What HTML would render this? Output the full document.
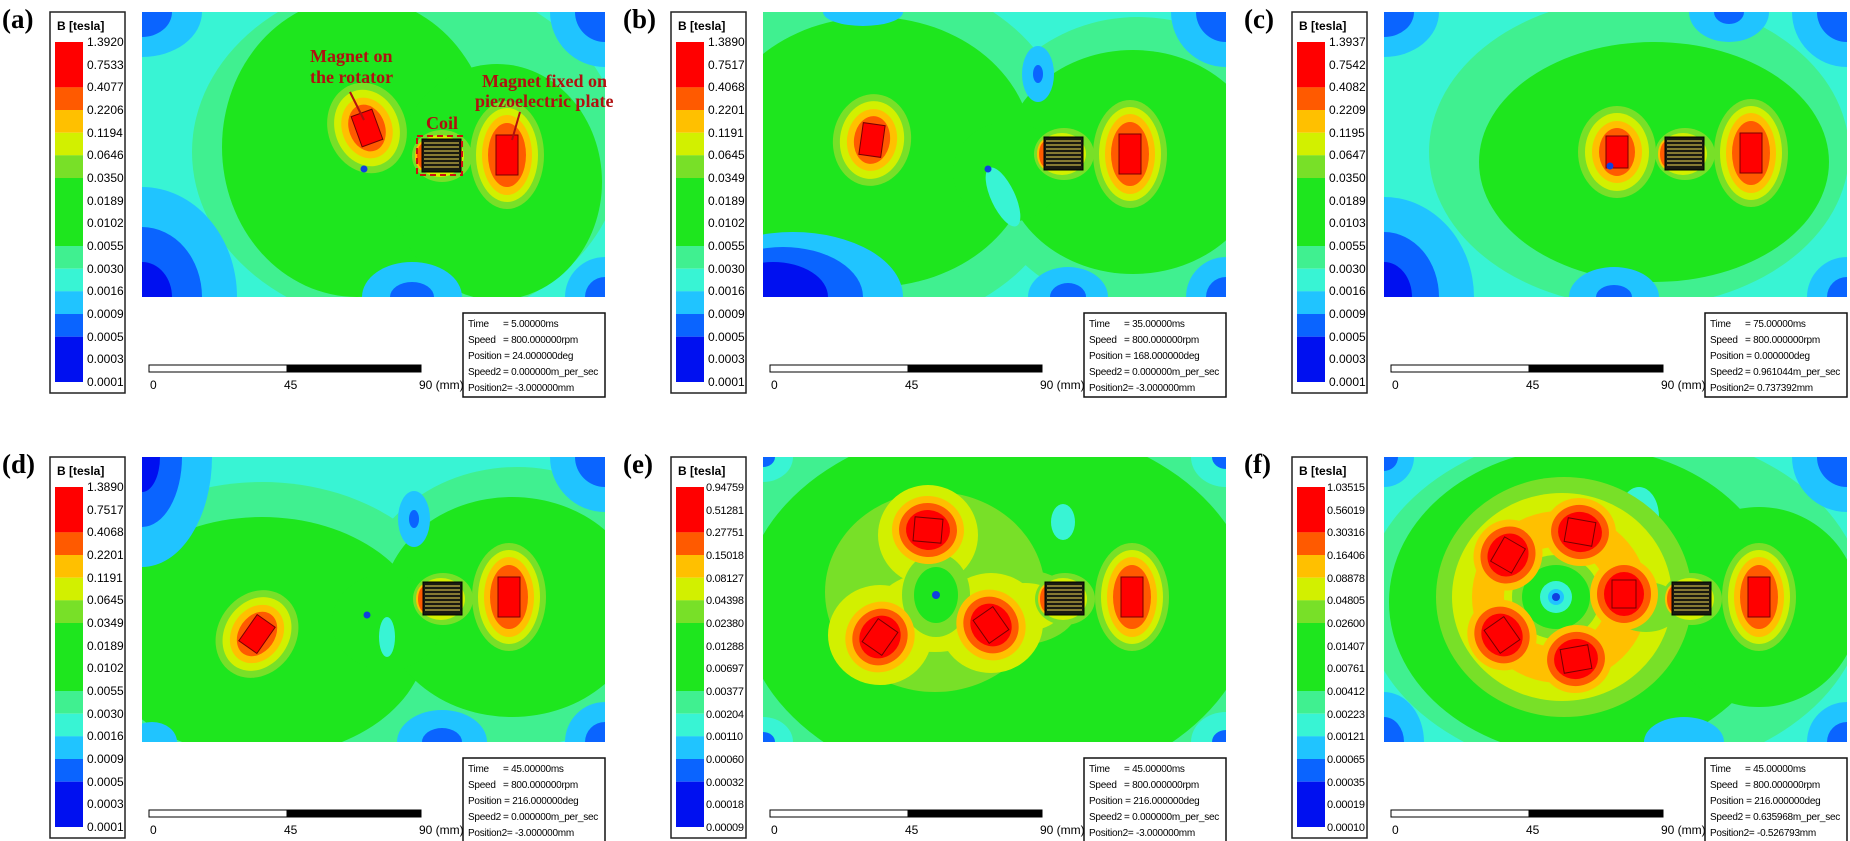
<!DOCTYPE html>
<html><head><meta charset="utf-8"><style>
html,body{margin:0;padding:0;background:#fff;}
svg{display:block;}
.lb{font-family:"Liberation Sans",Arial,sans-serif;font-size:12px;fill:#000;}
.lb5{font-family:"Liberation Sans",Arial,sans-serif;font-size:11px;fill:#000;letter-spacing:-0.3px;}
.tt{font-family:"Liberation Sans",Arial,sans-serif;font-size:12px;font-weight:bold;fill:#000;}
.inf{font-family:"Liberation Sans",Arial,sans-serif;font-size:10px;fill:#000;letter-spacing:-0.25px;}
.pl{font-family:"Liberation Serif","Times New Roman",serif;font-size:27px;font-weight:bold;fill:#000;}
.an{font-family:"Liberation Serif","Times New Roman",serif;font-size:18px;font-weight:bold;fill:#b01010;}
</style></head><body>
<svg width="1850" height="841" viewBox="0 0 1850 841" xmlns="http://www.w3.org/2000/svg">
<defs>
<g id="cbar">
<rect x="55" y="42" width="28" height="45.4" fill="#ff0000"/>
<rect x="55" y="87.3" width="28" height="22.7" fill="#ff5a00"/>
<rect x="55" y="110" width="28" height="22.7" fill="#ffc000"/>
<rect x="55" y="132.7" width="28" height="22.7" fill="#d2f000"/>
<rect x="55" y="155.3" width="28" height="22.7" fill="#78e028"/>
<rect x="55" y="178" width="28" height="68" fill="#1ee61e"/>
<rect x="55" y="246" width="28" height="22.7" fill="#40f090"/>
<rect x="55" y="268.7" width="28" height="22.7" fill="#38f4d4"/>
<rect x="55" y="291.3" width="28" height="22.7" fill="#20c4ff"/>
<rect x="55" y="314" width="28" height="22.7" fill="#0a64ff"/>
<rect x="55" y="336.7" width="28" height="45.3" fill="#0010f0"/>
<rect x="50" y="12" width="75" height="381" fill="none" stroke="#222" stroke-width="1.5"/>
<text x="57" y="30" class="tt">B [tesla]</text>
</g>
<g id="scale">
<rect x="149" y="365" width="138" height="7" fill="#fff" stroke="#000" stroke-width="1"/>
<rect x="287" y="365" width="134" height="7" fill="#000" stroke="#000" stroke-width="1"/>
<text x="150" y="389" class="lb">0</text>
<text x="284" y="389" class="lb">45</text>
<text x="419" y="389" class="lb">90 (mm)</text>
<rect x="463" y="313" width="142" height="84" fill="#fff" stroke="#111" stroke-width="1.5"/>
</g>
<g id="coil">
<rect x="0" y="0" width="39" height="33" fill="#1a1a10" stroke="#000"/>
<g stroke="#c8b448" stroke-width="1.2">
<line x1="2" y1="4" x2="37" y2="4"/><line x1="2" y1="8" x2="37" y2="8"/><line x1="2" y1="12" x2="37" y2="12"/><line x1="2" y1="16" x2="37" y2="16"/><line x1="2" y1="20" x2="37" y2="20"/><line x1="2" y1="24" x2="37" y2="24"/><line x1="2" y1="28" x2="37" y2="28"/>
</g>
</g>
<g id="hrot">
<ellipse rx="39" ry="46" fill="#78e028"/>
<ellipse rx="32" ry="39" fill="#d2f000"/>
<ellipse rx="25" ry="31" fill="#ffc000"/>
<ellipse rx="18" ry="24" fill="#ff5a00"/>
<rect x="-11" y="-16" width="22" height="32" fill="#ff0000" stroke="#700" stroke-width="1"/>
</g>
<g id="hfix">
<ellipse rx="37" ry="54" fill="#78e028"/>
<ellipse rx="31" ry="47" fill="#d2f000"/>
<ellipse rx="25" ry="40" fill="#ffc000"/>
<ellipse rx="19" ry="32" fill="#ff5a00"/>
<rect x="-11" y="-20" width="22" height="40" fill="#ff0000" stroke="#700" stroke-width="1"/>
</g>
<g id="hcoil">
<ellipse cx="20" cy="17" rx="30" ry="26" fill="#78e028"/>
<ellipse cx="18" cy="17" rx="24" ry="21" fill="#d2f000"/>
<ellipse cx="4" cy="17" rx="11" ry="16" fill="#ffc000"/>
<ellipse cx="2" cy="17" rx="7" ry="13" fill="#ff5a00"/>
<use href="#coil"/>
</g>
<g id="hbig">
<ellipse rx="36" ry="34" fill="#ffc000"/>
<ellipse rx="29" ry="27" fill="#ff5a00"/>
<ellipse rx="22" ry="20" fill="#ff0000"/>
<rect x="-14" y="-12" width="28" height="24" fill="#ff0000" stroke="#700" stroke-width="1"/>
</g>
<g id="corners">
<circle cx="463" cy="0" r="55" fill="#20c4ff"/><circle cx="463" cy="0" r="30" fill="#0a64ff"/>
<circle cx="463" cy="285" r="40" fill="#20c4ff"/><circle cx="463" cy="285" r="20" fill="#0a64ff"/>
</g>
</defs>

<!-- ===== (a) ===== -->
<g transform="translate(0,0)">
<text x="2" y="28" class="pl">(a)</text>
<use href="#cbar"/>
<svg x="142" y="12" width="463" height="285" viewBox="0 0 463 285">
<rect width="463" height="285" fill="#38f4d4"/>
<ellipse cx="265" cy="140" rx="215" ry="175" fill="#40f090"/>
<ellipse cx="215" cy="135" rx="135" ry="150" fill="#1ee61e"/>
<ellipse cx="355" cy="170" rx="105" ry="118" fill="#1ee61e"/>
<ellipse cx="0" cy="0" rx="60" ry="45" fill="#20c4ff"/><ellipse cx="0" cy="0" rx="30" ry="25" fill="#0a64ff"/>
<ellipse cx="0" cy="285" rx="95" ry="110" fill="#20c4ff"/><ellipse cx="0" cy="285" rx="60" ry="70" fill="#0a64ff"/><ellipse cx="0" cy="285" rx="30" ry="35" fill="#0010f0"/>
<ellipse cx="270" cy="285" rx="50" ry="35" fill="#20c4ff"/><ellipse cx="270" cy="285" rx="22" ry="15" fill="#0a64ff"/>
<use href="#corners"/>
<use href="#hrot" transform="translate(225,116) rotate(-20)"/>
<use href="#hcoil" transform="translate(280,127)"/>
<use href="#hfix" transform="translate(365,143)"/>
<circle cx="222" cy="157" r="3.5" fill="#1040e0"/>
<rect x="275" y="124" width="45" height="39" fill="none" stroke="#d01010" stroke-width="2" stroke-dasharray="6,4"/>
<line x1="208" y1="80" x2="222" y2="108" stroke="#b01010" stroke-width="2"/>
<line x1="378" y1="100" x2="370" y2="128" stroke="#b01010" stroke-width="2"/>
</svg>
<text x="310" y="62" class="an">Magnet on</text>
<text x="310" y="83" class="an">the rotator</text>
<text x="482" y="87" class="an">Magnet fixed on</text>
<text x="475" y="107" class="an">piezoelectric plate</text>
<text x="426" y="129" class="an">Coil</text>
<use href="#scale"/>
<g class="lb">
<text x="87" y="46">1.3920</text><text x="87" y="69">0.7533</text><text x="87" y="91">0.4077</text><text x="87" y="114">0.2206</text><text x="87" y="137">0.1194</text><text x="87" y="159">0.0646</text><text x="87" y="182">0.0350</text><text x="87" y="205">0.0189</text><text x="87" y="227">0.0102</text><text x="87" y="250">0.0055</text><text x="87" y="273">0.0030</text><text x="87" y="295">0.0016</text><text x="87" y="318">0.0009</text><text x="87" y="341">0.0005</text><text x="87" y="363">0.0003</text><text x="87" y="386">0.0001</text>
</g>
<g class="inf">
<text x="468" y="327">Time</text><text x="503" y="327">= 5.00000ms</text>
<text x="468" y="343">Speed</text><text x="503" y="343">= 800.000000rpm</text>
<text x="468" y="359">Position = 24.000000deg</text>
<text x="468" y="375">Speed2</text><text x="503" y="375">= 0.000000m_per_sec</text>
<text x="468" y="391">Position2= -3.000000mm</text>
</g>
</g>

<!-- ===== (b) ===== -->
<g transform="translate(621,0)">
<text x="2" y="28" class="pl">(b)</text>
<use href="#cbar"/>
<svg x="142" y="12" width="463" height="285" viewBox="0 0 463 285">
<rect width="463" height="285" fill="#38f4d4"/>
<ellipse cx="110" cy="140" rx="200" ry="175" fill="#40f090"/>
<ellipse cx="375" cy="150" rx="160" ry="145" fill="#40f090"/>
<ellipse cx="110" cy="140" rx="160" ry="135" fill="#1ee61e"/>
<ellipse cx="370" cy="150" rx="130" ry="112" fill="#1ee61e"/>
<ellipse cx="245" cy="160" rx="55" ry="50" fill="#1ee61e"/>
<ellipse cx="240" cy="185" rx="12" ry="32" transform="rotate(-25 240 185)" fill="#38f4d4"/>
<ellipse cx="275" cy="62" rx="16" ry="28" fill="#20c4ff"/><ellipse cx="275" cy="62" rx="5" ry="9" fill="#0a64ff"/>
<ellipse cx="30" cy="285" rx="110" ry="65" fill="#20c4ff"/><ellipse cx="20" cy="285" rx="80" ry="50" fill="#0a64ff"/><ellipse cx="10" cy="285" rx="55" ry="35" fill="#0010f0"/>
<ellipse cx="305" cy="285" rx="40" ry="30" fill="#20c4ff"/><ellipse cx="305" cy="285" rx="18" ry="14" fill="#0a64ff"/>
<ellipse cx="100" cy="0" rx="40" ry="14" fill="#20c4ff"/>
<use href="#corners"/>
<use href="#hrot" transform="translate(109,128) rotate(8)"/>
<use href="#hcoil" transform="translate(281,125)"/>
<use href="#hfix" transform="translate(367,142)"/>
<circle cx="225" cy="157" r="3.5" fill="#1040e0"/>
</svg>
<use href="#scale"/>
<g class="lb">
<text x="87" y="46">1.3890</text><text x="87" y="69">0.7517</text><text x="87" y="91">0.4068</text><text x="87" y="114">0.2201</text><text x="87" y="137">0.1191</text><text x="87" y="159">0.0645</text><text x="87" y="182">0.0349</text><text x="87" y="205">0.0189</text><text x="87" y="227">0.0102</text><text x="87" y="250">0.0055</text><text x="87" y="273">0.0030</text><text x="87" y="295">0.0016</text><text x="87" y="318">0.0009</text><text x="87" y="341">0.0005</text><text x="87" y="363">0.0003</text><text x="87" y="386">0.0001</text>
</g>
<g class="inf">
<text x="468" y="327">Time</text><text x="503" y="327">= 35.00000ms</text>
<text x="468" y="343">Speed</text><text x="503" y="343">= 800.000000rpm</text>
<text x="468" y="359">Position = 168.000000deg</text>
<text x="468" y="375">Speed2</text><text x="503" y="375">= 0.000000m_per_sec</text>
<text x="468" y="391">Position2= -3.000000mm</text>
</g>
</g>

<!-- ===== (c) ===== -->
<g transform="translate(1242,0)">
<text x="2" y="28" class="pl">(c)</text>
<use href="#cbar"/>
<svg x="142" y="12" width="463" height="285" viewBox="0 0 463 285">
<rect width="463" height="285" fill="#38f4d4"/>
<ellipse cx="255" cy="140" rx="210" ry="155" fill="#40f090"/>
<ellipse cx="270" cy="150" rx="175" ry="120" fill="#1ee61e"/>
<ellipse cx="0" cy="0" rx="55" ry="45" fill="#20c4ff"/><ellipse cx="0" cy="0" rx="30" ry="25" fill="#0a64ff"/>
<ellipse cx="0" cy="285" rx="90" ry="100" fill="#20c4ff"/><ellipse cx="0" cy="285" rx="55" ry="65" fill="#0a64ff"/><ellipse cx="0" cy="285" rx="28" ry="35" fill="#0010f0"/>
<ellipse cx="230" cy="285" rx="45" ry="30" fill="#20c4ff"/><ellipse cx="230" cy="285" rx="18" ry="12" fill="#0a64ff"/>
<ellipse cx="345" cy="0" rx="40" ry="30" fill="#20c4ff"/><ellipse cx="345" cy="0" rx="15" ry="12" fill="#0a64ff"/>
<use href="#corners"/>
<use href="#hrot" transform="translate(233,140)"/>
<use href="#hcoil" transform="translate(281,125)"/>
<use href="#hfix" transform="translate(367,141)"/>
<circle cx="226" cy="154" r="3.5" fill="#1040e0"/>
</svg>
<use href="#scale"/>
<g class="lb">
<text x="87" y="46">1.3937</text><text x="87" y="69">0.7542</text><text x="87" y="91">0.4082</text><text x="87" y="114">0.2209</text><text x="87" y="137">0.1195</text><text x="87" y="159">0.0647</text><text x="87" y="182">0.0350</text><text x="87" y="205">0.0189</text><text x="87" y="227">0.0103</text><text x="87" y="250">0.0055</text><text x="87" y="273">0.0030</text><text x="87" y="295">0.0016</text><text x="87" y="318">0.0009</text><text x="87" y="341">0.0005</text><text x="87" y="363">0.0003</text><text x="87" y="386">0.0001</text>
</g>
<g class="inf">
<text x="468" y="327">Time</text><text x="503" y="327">= 75.00000ms</text>
<text x="468" y="343">Speed</text><text x="503" y="343">= 800.000000rpm</text>
<text x="468" y="359">Position = 0.000000deg</text>
<text x="468" y="375">Speed2</text><text x="503" y="375">= 0.961044m_per_sec</text>
<text x="468" y="391">Position2= 0.737392mm</text>
</g>
</g>

<!-- ===== (d) ===== -->
<g transform="translate(0,445)">
<text x="2" y="28" class="pl">(d)</text>
<use href="#cbar"/>
<svg x="142" y="12" width="463" height="285" viewBox="0 0 463 285">
<rect width="463" height="285" fill="#38f4d4"/>
<ellipse cx="120" cy="175" rx="200" ry="150" fill="#40f090"/>
<ellipse cx="375" cy="150" rx="160" ry="140" fill="#40f090"/>
<ellipse cx="120" cy="180" rx="165" ry="120" fill="#1ee61e"/>
<ellipse cx="370" cy="150" rx="130" ry="110" fill="#1ee61e"/>
<ellipse cx="245" cy="165" rx="55" ry="48" fill="#1ee61e"/>
<ellipse cx="245" cy="180" rx="8" ry="20" fill="#38f4d4"/>
<ellipse cx="272" cy="62" rx="16" ry="28" fill="#20c4ff"/><ellipse cx="272" cy="62" rx="5" ry="9" fill="#0a64ff"/>
<ellipse cx="0" cy="0" rx="70" ry="110" fill="#20c4ff"/><ellipse cx="0" cy="0" rx="40" ry="70" fill="#0a64ff"/><ellipse cx="0" cy="0" rx="18" ry="35" fill="#0010f0"/>
<ellipse cx="300" cy="285" rx="45" ry="32" fill="#20c4ff"/><ellipse cx="300" cy="285" rx="20" ry="14" fill="#0a64ff"/>
<ellipse cx="10" cy="285" rx="25" ry="20" fill="#20c4ff"/>
<use href="#corners"/>
<use href="#hrot" transform="translate(115,177) rotate(35)"/>
<use href="#hcoil" transform="translate(281,125)"/>
<use href="#hfix" transform="translate(367,140)"/>
<circle cx="225" cy="158" r="3.5" fill="#1040e0"/>
</svg>
<use href="#scale"/>
<g class="lb">
<text x="87" y="46">1.3890</text><text x="87" y="69">0.7517</text><text x="87" y="91">0.4068</text><text x="87" y="114">0.2201</text><text x="87" y="137">0.1191</text><text x="87" y="159">0.0645</text><text x="87" y="182">0.0349</text><text x="87" y="205">0.0189</text><text x="87" y="227">0.0102</text><text x="87" y="250">0.0055</text><text x="87" y="273">0.0030</text><text x="87" y="295">0.0016</text><text x="87" y="318">0.0009</text><text x="87" y="341">0.0005</text><text x="87" y="363">0.0003</text><text x="87" y="386">0.0001</text>
</g>
<g class="inf">
<text x="468" y="327">Time</text><text x="503" y="327">= 45.00000ms</text>
<text x="468" y="343">Speed</text><text x="503" y="343">= 800.000000rpm</text>
<text x="468" y="359">Position = 216.000000deg</text>
<text x="468" y="375">Speed2</text><text x="503" y="375">= 0.000000m_per_sec</text>
<text x="468" y="391">Position2= -3.000000mm</text>
</g>
</g>

<!-- ===== (e) ===== -->
<g transform="translate(621,445)">
<text x="2" y="28" class="pl">(e)</text>
<use href="#cbar"/>
<svg x="142" y="12" width="463" height="285" viewBox="0 0 463 285">
<rect width="463" height="285" fill="#40f090"/>
<ellipse cx="235" cy="150" rx="255" ry="185" fill="#1ee61e"/>
<ellipse cx="0" cy="0" rx="30" ry="25" fill="#38f4d4"/><ellipse cx="0" cy="0" rx="12" ry="10" fill="#0a64ff"/>
<ellipse cx="0" cy="285" rx="30" ry="25" fill="#38f4d4"/><ellipse cx="0" cy="285" rx="12" ry="10" fill="#0a64ff"/>
<ellipse cx="463" cy="0" rx="35" ry="30" fill="#38f4d4"/><ellipse cx="463" cy="0" rx="14" ry="12" fill="#0a64ff"/>
<ellipse cx="463" cy="285" rx="35" ry="30" fill="#38f4d4"/><ellipse cx="463" cy="285" rx="14" ry="12" fill="#0a64ff"/>
<ellipse cx="300" cy="65" rx="12" ry="18" fill="#38f4d4"/>
<ellipse cx="172" cy="135" rx="110" ry="100" fill="#78e028"/>
<ellipse cx="255" cy="150" rx="60" ry="38" fill="#78e028"/>
<ellipse cx="165" cy="78" rx="50" ry="50" fill="#d2f000"/>
<ellipse cx="117" cy="178" rx="52" ry="50" fill="#d2f000"/>
<ellipse cx="228" cy="166" rx="52" ry="50" fill="#d2f000"/>
<ellipse cx="172" cy="155" rx="60" ry="40" fill="#d2f000"/>
<ellipse cx="262" cy="150" rx="38" ry="24" fill="#d2f000"/>
<ellipse cx="173" cy="138" rx="34" ry="42" fill="#78e028"/>
<ellipse cx="173" cy="138" rx="22" ry="28" fill="#1ee61e"/>
<use href="#hbig" transform="translate(165,73) rotate(5)"/>
<use href="#hbig" transform="translate(117,180) rotate(-55)"/>
<use href="#hbig" transform="translate(228,168) rotate(55)"/>
<use href="#hcoil" transform="translate(282,125)"/>
<use href="#hfix" transform="translate(369,140)"/>
<circle cx="173" cy="138" r="4" fill="#1040e0"/>
</svg>
<use href="#scale"/>
<g class="lb5">
<text x="85" y="46">0.94759</text><text x="85" y="69">0.51281</text><text x="85" y="91">0.27751</text><text x="85" y="114">0.15018</text><text x="85" y="137">0.08127</text><text x="85" y="159">0.04398</text><text x="85" y="182">0.02380</text><text x="85" y="205">0.01288</text><text x="85" y="227">0.00697</text><text x="85" y="250">0.00377</text><text x="85" y="273">0.00204</text><text x="85" y="295">0.00110</text><text x="85" y="318">0.00060</text><text x="85" y="341">0.00032</text><text x="85" y="363">0.00018</text><text x="85" y="386">0.00009</text>
</g>
<g class="inf">
<text x="468" y="327">Time</text><text x="503" y="327">= 45.00000ms</text>
<text x="468" y="343">Speed</text><text x="503" y="343">= 800.000000rpm</text>
<text x="468" y="359">Position = 216.000000deg</text>
<text x="468" y="375">Speed2</text><text x="503" y="375">= 0.000000m_per_sec</text>
<text x="468" y="391">Position2= -3.000000mm</text>
</g>
</g>

<!-- ===== (f) ===== -->
<g transform="translate(1242,445)">
<text x="2" y="28" class="pl">(f)</text>
<use href="#cbar"/>
<svg x="142" y="12" width="463" height="285" viewBox="0 0 463 285">
<rect width="463" height="285" fill="#38f4d4"/>
<ellipse cx="230" cy="145" rx="250" ry="175" fill="#40f090"/>
<ellipse cx="200" cy="145" rx="195" ry="155" fill="#1ee61e"/>
<ellipse cx="375" cy="150" rx="100" ry="100" fill="#1ee61e"/>
<ellipse cx="0" cy="0" rx="30" ry="30" fill="#20c4ff"/><ellipse cx="0" cy="0" rx="14" ry="14" fill="#0a64ff"/>
<ellipse cx="0" cy="285" rx="40" ry="50" fill="#20c4ff"/><ellipse cx="0" cy="285" rx="20" ry="25" fill="#0a64ff"/>
<ellipse cx="300" cy="285" rx="40" ry="25" fill="#20c4ff"/>
<ellipse cx="255" cy="60" rx="20" ry="30" fill="#38f4d4"/>
<use href="#corners"/>
<ellipse cx="180" cy="140" rx="128" ry="120" fill="#78e028"/>
<ellipse cx="178" cy="140" rx="110" ry="104" fill="#d2f000"/>
<ellipse cx="176" cy="140" rx="88" ry="86" fill="#ffc000"/>
<ellipse cx="262" cy="150" rx="35" ry="25" fill="#78e028"/>
<ellipse cx="172" cy="140" rx="52" ry="50" fill="#d2f000"/>
<ellipse cx="172" cy="140" rx="44" ry="42" fill="#78e028"/>
<ellipse cx="172" cy="140" rx="34" ry="32" fill="#1ee61e"/>
<ellipse cx="172" cy="140" rx="16" ry="16" fill="#38f4d4"/>
<ellipse cx="172" cy="140" rx="8" ry="8" fill="#20c4ff"/>
<use href="#hbig" transform="translate(124,98) rotate(-60)"/>
<use href="#hbig" transform="translate(196,75) rotate(10)"/>
<use href="#hbig" transform="translate(240,137) rotate(90)"/>
<use href="#hbig" transform="translate(192,202) rotate(-10)"/>
<use href="#hbig" transform="translate(118,178) rotate(55)"/>
<use href="#hcoil" transform="translate(288,125)"/>
<use href="#hfix" transform="translate(375,140)"/>
<circle cx="172" cy="140" r="4" fill="#1040e0"/>
</svg>
<use href="#scale"/>
<g class="lb5">
<text x="85" y="46">1.03515</text><text x="85" y="69">0.56019</text><text x="85" y="91">0.30316</text><text x="85" y="114">0.16406</text><text x="85" y="137">0.08878</text><text x="85" y="159">0.04805</text><text x="85" y="182">0.02600</text><text x="85" y="205">0.01407</text><text x="85" y="227">0.00761</text><text x="85" y="250">0.00412</text><text x="85" y="273">0.00223</text><text x="85" y="295">0.00121</text><text x="85" y="318">0.00065</text><text x="85" y="341">0.00035</text><text x="85" y="363">0.00019</text><text x="85" y="386">0.00010</text>
</g>
<g class="inf">
<text x="468" y="327">Time</text><text x="503" y="327">= 45.00000ms</text>
<text x="468" y="343">Speed</text><text x="503" y="343">= 800.000000rpm</text>
<text x="468" y="359">Position = 216.000000deg</text>
<text x="468" y="375">Speed2</text><text x="503" y="375">= 0.635968m_per_sec</text>
<text x="468" y="391">Position2= -0.526793mm</text>
</g>
</g>
</svg>
</body></html>
